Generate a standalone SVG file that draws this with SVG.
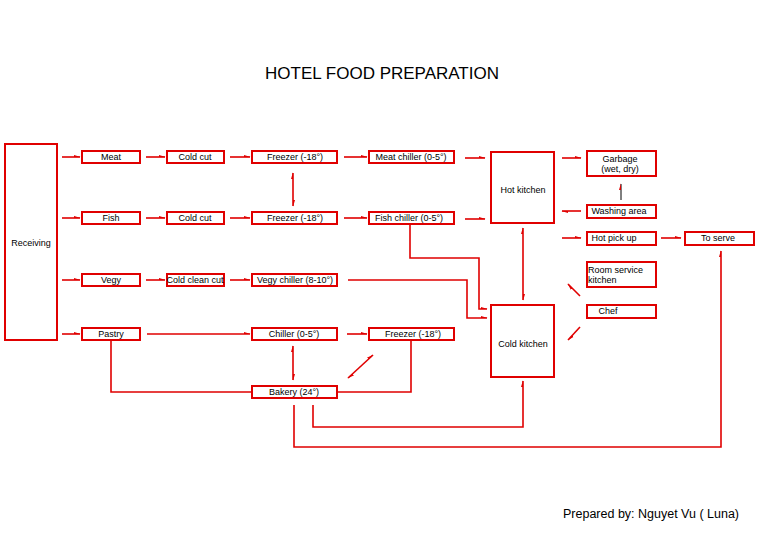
<svg xmlns="http://www.w3.org/2000/svg" width="768" height="543" viewBox="0 0 768 543">
<style>
.b{fill:#fff;stroke:#e00000;stroke-width:2}
.t{font-family:"Liberation Sans",Arial,sans-serif;font-size:9px;fill:#000;text-anchor:middle}
.c path{fill:none;stroke:#e00000;stroke-width:1.6}
</style>
<defs>
<marker id="a" viewBox="0 0 10 10" refX="9" refY="5" markerWidth="7" markerHeight="7" orient="auto-start-reverse" markerUnits="userSpaceOnUse"><path d="M0,2 L10,5 L0,5 z" fill="#e00000"/></marker>
</defs>
<rect width="768" height="543" fill="#fff"/>
<text x="382" y="79" style="font-family:'Liberation Sans',Arial,sans-serif;font-size:17px;text-anchor:middle">HOTEL FOOD PREPARATION</text>
<text x="651" y="518" style="font-family:'Liberation Sans',Arial,sans-serif;font-size:12.5px;text-anchor:middle">Prepared by: Nguyet Vu ( Luna)</text>
<g id="receiving"><rect class="b" x="5" y="144" width="52" height="196"/><text class="t" x="31" y="246">Receiving</text></g>
<g id="meat"><rect class="b" x="82" y="151" width="58" height="12"/><text class="t" x="111" y="160">Meat</text></g>
<g id="coldcut1"><rect class="b" x="167" y="151" width="57" height="12"/><text class="t" x="195" y="160">Cold cut</text></g>
<g id="freezer1"><rect class="b" x="252" y="151" width="85" height="12"/><text class="t" x="295" y="160">Freezer (-18°)</text></g>
<g id="meatchiller"><rect class="b" x="369" y="151" width="85" height="12"/><text class="t" x="411" y="160">Meat chiller (0-5°)</text></g>
<g id="fish"><rect class="b" x="82" y="212" width="58" height="12"/><text class="t" x="111" y="221">Fish</text></g>
<g id="coldcut2"><rect class="b" x="167" y="212" width="57" height="12"/><text class="t" x="195" y="221">Cold cut</text></g>
<g id="freezer2"><rect class="b" x="252" y="212" width="85" height="12"/><text class="t" x="295" y="221">Freezer (-18°)</text></g>
<g id="fishchiller"><rect class="b" x="369" y="212" width="85" height="12"/><text class="t" x="409" y="221">Fish chiller (0-5°)</text></g>
<g id="vegy"><rect class="b" x="82" y="274" width="58" height="12"/><text class="t" x="111" y="283">Vegy</text></g>
<g id="coldcleancut"><rect class="b" x="167" y="274" width="57" height="12"/><text class="t" x="195" y="283">Cold clean cut</text></g>
<g id="vegychiller"><rect class="b" x="252" y="274" width="85" height="12"/><text class="t" x="295" y="283">Vegy chiller (8-10°)</text></g>
<g id="pastry"><rect class="b" x="82" y="328" width="58" height="12"/><text class="t" x="111" y="337">Pastry</text></g>
<g id="chiller"><rect class="b" x="252" y="328" width="85" height="12"/><text class="t" x="294" y="337">Chiller (0-5°)</text></g>
<g id="freezer3"><rect class="b" x="369" y="328" width="85" height="12"/><text class="t" x="413" y="337">Freezer (-18°)</text></g>
<g id="bakery"><rect class="b" x="252" y="386" width="85" height="12"/><text class="t" x="294" y="395">Bakery (24°)</text></g>
<g id="hotkitchen"><rect class="b" x="491" y="152" width="63" height="71"/><text class="t" x="523" y="193">Hot kitchen</text></g>
<g id="coldkitchen"><rect class="b" x="491" y="305" width="63" height="72"/><text class="t" x="523" y="347">Cold kitchen</text></g>
<g id="garbage"><rect class="b" x="587" y="151" width="69" height="25"/><text class="t" x="620" y="162">Garbage</text><text class="t" x="620" y="172">(wet, dry)</text></g>
<g id="washing"><rect class="b" x="587" y="205" width="69" height="13"/><text class="t" x="619" y="214">Washing area</text></g>
<g id="hotpickup"><rect class="b" x="587" y="232" width="69" height="13"/><text class="t" x="614" y="241">Hot pick up</text></g>
<g id="roomservice"><rect class="b" x="587" y="262" width="69" height="25"/><text class="t" x="588" y="273" style="text-anchor:start">Room service</text><text class="t" x="588" y="283" style="text-anchor:start">kitchen</text></g>
<g id="chef"><rect class="b" x="587" y="305" width="69" height="13"/><text class="t" x="608" y="314">Chef</text></g>
<g id="toserve"><rect class="b" x="685" y="232" width="69" height="13"/><text class="t" x="718" y="241">To serve</text></g>
<g class="c" id="connectors">
<path d="M62,157H80" marker-end="url(#a)"/><path d="M146,157H165" marker-end="url(#a)"/><path d="M230,157H250" marker-end="url(#a)"/><path d="M344,157H367" marker-end="url(#a)"/>
<path d="M62,218H80" marker-end="url(#a)"/><path d="M146,218H165" marker-end="url(#a)"/><path d="M230,218H250" marker-end="url(#a)"/><path d="M344,218H367" marker-end="url(#a)"/>
<path d="M62,280H80" marker-end="url(#a)"/><path d="M146,280H165" marker-end="url(#a)"/><path d="M230,280H250" marker-end="url(#a)"/>
<path d="M62,334H80" marker-end="url(#a)"/><path d="M147,334H250" marker-end="url(#a)"/><path d="M347,334H367" marker-end="url(#a)"/>
<path d="M465,158H485" marker-end="url(#a)"/><path d="M465,219H485" marker-end="url(#a)"/>
<path d="M562,158H581" marker-end="url(#a)"/><path d="M581,211H562" marker-end="url(#a)"/><path d="M621,200V184" style="stroke:#000;stroke-width:1" marker-end="url(#a)"/>
<path d="M562,238H581" marker-end="url(#a)"/><path d="M661,238H681" marker-end="url(#a)"/>
<path d="M293,173V206" marker-start="url(#a)" marker-end="url(#a)"/>
<path d="M410,225V258H479V309H487" marker-end="url(#a)"/>
<path d="M348,280H467V318H487" marker-end="url(#a)"/>
<path d="M523,228V300" marker-start="url(#a)" marker-end="url(#a)"/>
<path d="M580,296L568,284" marker-end="url(#a)"/><path d="M580,327L568,340" marker-end="url(#a)"/>
<path d="M293,346V380" marker-start="url(#a)" marker-end="url(#a)"/>
<path d="M348,378L373,355" marker-start="url(#a)" marker-end="url(#a)"/>
<path d="M111,340V392H252"/><path d="M411,340V392H337"/>
<path d="M313,405V427H523V381" marker-end="url(#a)"/>
<path d="M294,405V447H721V251" marker-end="url(#a)"/>
</g>
</svg>
